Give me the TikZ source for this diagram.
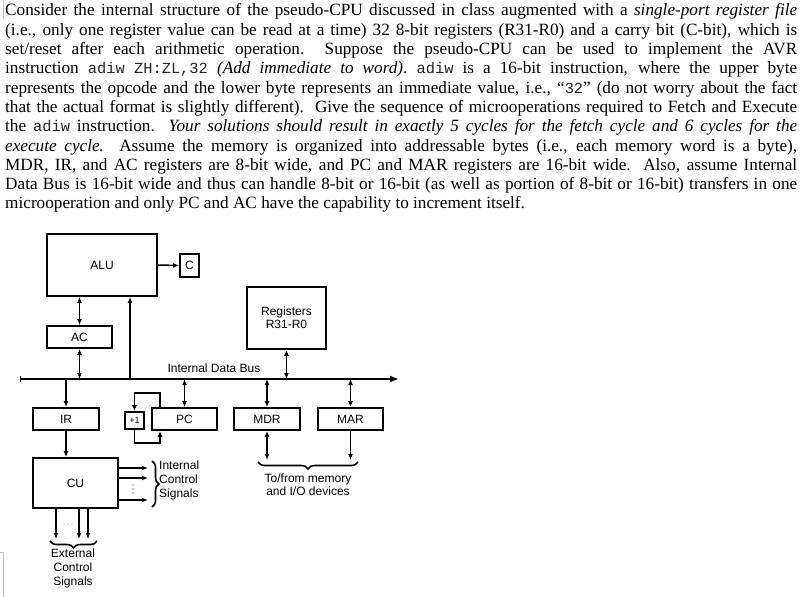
\documentclass[tikz,border=0pt]{standalone}
\usepackage{fontspec}
\setmainfont{Liberation Serif}
\setmonofont{Liberation Mono}
\newfontfamily\diagfont{Liberation Sans}
\usetikzlibrary{arrows.meta,decorations.pathreplacing}
\newcommand\jline[1]{\hbox to 792pt{#1}}
\newcommand\cw[1]{{\fontsize{15.4}{19.3}\selectfont\ttfamily\color{black!85}#1}}
\begin{document}
\begin{tikzpicture}[x=1pt,y=-1pt,
  box/.style={draw,line width=1.8pt,inner sep=0pt,font=\diagfont\fontsize{12}{13.3}\selectfont,align=center},
  lab/.style={inner sep=0pt,font=\diagfont\fontsize{12}{14}\selectfont},
  arr/.style={line width=1.5pt,-{Latex[length=6pt,width=5pt]}},
  darr/.style={line width=1.5pt,{Latex[length=6pt,width=5pt]}-{Latex[length=6pt,width=5pt]}},
  brc/.style={line width=1.6pt,decorate,decoration={brace,amplitude=7pt}},
  faint/.style={draw=black!25,line width=0.6pt}
]
\useasboundingbox (0,0) rectangle (812,597);
\fill[white] (0,0) rectangle (812,597);

% problem text
\node[anchor=base west,inner sep=0pt] (txt) at (5,16) {\parbox[t]{792pt}{\fontsize{17.2}{19.3}\selectfont
\jline{Consider the internal structure of the pseudo-CPU discussed in class augmented with a \textit{single-port register file}}
\jline{(i.e., only one register value can be read at a time) 32 8-bit registers (R31-R0) and a carry bit (C-bit), which is}
\jline{set/reset after each arithmetic operation.\ \ Suppose the pseudo-CPU can be used to implement the AVR}
\jline{instruction \cw{adiw ZH:ZL,32} \textit{(Add immediate to word)}.\ \cw{adiw} is a 16-bit instruction, where the upper byte}
\jline{represents the opcode and the lower byte represents an immediate value, i.e., “\cw{32}” (do not worry about the fact}
\jline{that the actual format is slightly different).\ \ Give the sequence of microoperations required to Fetch and Execute}
\jline{the \cw{adiw} instruction.\ \ \textit{Your solutions should result in exactly 5 cycles for the fetch cycle and 6 cycles for the}}
\jline{\textit{execute cycle.}\ \ Assume the memory is organized into addressable bytes (i.e., each memory word is a byte),}
\jline{MDR, IR, and AC registers are 8-bit wide, and PC and MAR registers are 16-bit wide.\ \ Also, assume Internal}
\jline{Data Bus is 16-bit wide and thus can handle 8-bit or 16-bit (as well as portion of 8-bit or 16-bit) transfers in one}
\hbox{microoperation and only PC and AC have the capability to increment itself.}
}};

% faint border marks
\draw[faint] (3,0) -- (3,19);
\draw[faint] (0,552) -- (3,552) -- (3,597);

% boxes
\node[box,minimum width=110pt,minimum height=62pt] (alu) at (102,265) {ALU};
\node[box,minimum width=19pt,minimum height=23pt] (cbit) at (189.5,265.5) {C};
\node[box,minimum width=65pt,minimum height=22pt] (ac) at (79.5,337) {AC};
\node[box,minimum width=79pt,minimum height=62pt] (regs) at (286.5,318) {Registers\\R31-R0};
\node[box,minimum width=66pt,minimum height=22pt] (ir) at (66,419) {IR};
\node[box,minimum width=65pt,minimum height=22pt] (pc) at (184.5,419) {PC};
\node[box,minimum width=19pt,minimum height=17pt,font=\diagfont\fontsize{9}{10}\selectfont] (plus) at (134.5,420.5) {+1};
\node[box,minimum width=66pt,minimum height=22pt] (mdr) at (267,419) {MDR};
\node[box,minimum width=65pt,minimum height=22pt] (mar) at (350.5,419) {MAR};
\node[box,minimum width=85pt,minimum height=50pt] (cu) at (75.5,483) {CU};

% bus
\coordinate (busL) at (20,379);
\coordinate (busR) at (399,379);
\coordinate (aluin) at (130,379);
\draw[line width=1.7pt,{Bar[width=6pt,line width=1pt]}-{Latex[length=9pt,width=7pt]}] (busL) -- (busR);
\node[lab] (buslab) at (214,368) {Internal Data Bus};

% connectors
\draw[arr] (alu.east) -- (cbit.west);
\draw[darr] (ac.north) -- (ac.north |- alu.south);
\draw[darr] (ac.south) -- (ac.south |- busL);
\draw[arr] (aluin) -- (aluin |- alu.south);
\draw[darr] (regs.south) -- (regs.south |- busL);
\draw[arr] (ir.north |- busL) -- (ir.north);
\draw[darr] (pc.north |- busL) -- (pc.north);
\draw[darr] (mdr.north |- busL) -- (mdr.north);
\draw[darr] (mar.north |- busL) -- (mar.north);

% PC increment loop
\coordinate (pcl) at (160,393);
\coordinate (pcb) at (160,443);
\draw[arr] (pc.north -| pcl) -- (pcl) -| (plus.north);
\draw[arr] (plus.south) |- (pcb) -- (pc.south -| pcb);

% memory side
\coordinate (memd) at (267,460);
\coordinate (mema) at (350.5,460);
\draw[darr] (mdr.south) -- (memd);
\draw[arr] (mar.south) -- (mema);
\coordinate (mbR) at (358,462);
\coordinate (mbL) at (258,462);
\draw[brc] (mbR) -- (mbL);
\node[lab,align=center,font=\diagfont\fontsize{12}{13}\selectfont] (memlab) at (308,485) {To/from memory\\and I/O devices};

% CU
\draw[arr] (ir.south) -- (ir.south |- cu.north);
\coordinate (is1) at (148,468);
\coordinate (is2) at (148,478);
\coordinate (is3) at (148,500);
\draw[arr] (cu.east |- is1) -- (is1);
\draw[arr] (cu.east |- is2) -- (is2);
\draw[arr] (cu.east |- is3) -- (is3);
\foreach \yy in {485,489,493} \fill[red!60!black] (133,\yy) circle (0.6pt);
\coordinate (ibT) at (152,461);
\coordinate (ibB) at (152,507);
\draw[brc] (ibT) -- (ibB);
\node[lab,align=left,anchor=west] (intlab) at (159,480.5) {Internal\\Control\\Signals};

\coordinate (es1) at (56,539);
\coordinate (es2) at (79,539);
\coordinate (es3) at (88,539);
\draw[arr] (cu.south -| es1) -- (es1);
\draw[arr] (cu.south -| es2) -- (es2);
\draw[arr] (cu.south -| es3) -- (es3);
\foreach \xx in {64,68,72} \fill[magenta!70!black] (\xx,524) circle (0.5pt);
\coordinate (ebR) at (97,541);
\coordinate (ebL) at (50,541);
\draw[brc] (ebR) -- (ebL);
\node[lab,align=center] (extlab) at (73,568) {External\\Control\\Signals};
\end{tikzpicture}
\end{document}
